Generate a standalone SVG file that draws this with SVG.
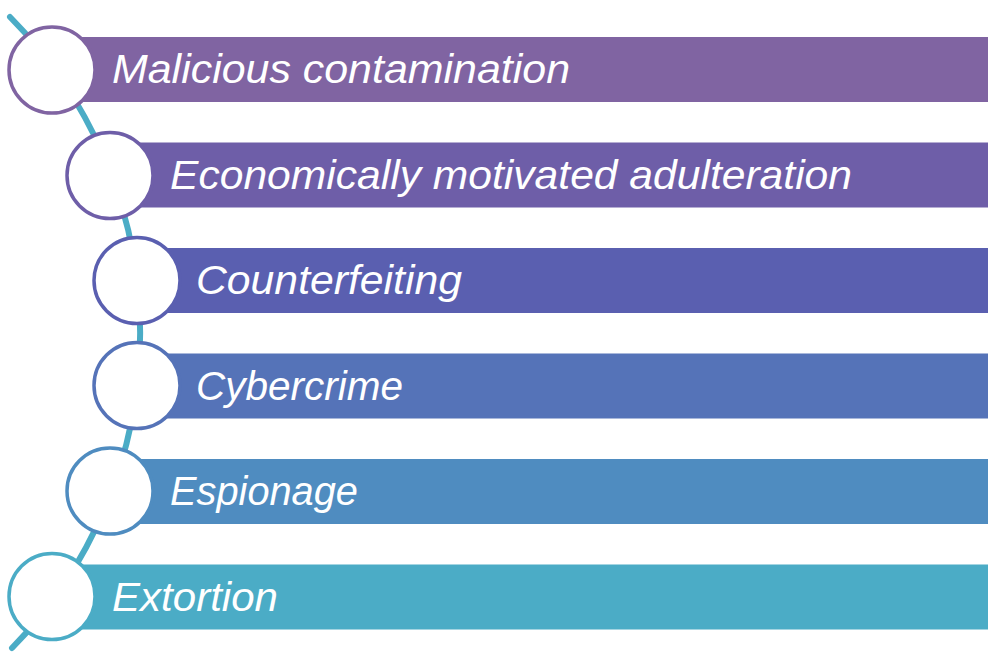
<svg xmlns="http://www.w3.org/2000/svg" width="1000" height="667" viewBox="0 0 1000 667">
<style>
.lbl{font-family:"Liberation Sans",Arial,sans-serif;font-style:italic;font-size:41px;fill:#ffffff}
.c{fill:#ffffff;stroke-width:3.5}
</style>
<rect width="1000" height="667" fill="#ffffff"/>
<g id="connectors">
<path d="M 10 17 A 450 450 0 0 1 12 648" fill="none" stroke="#4BACC6" stroke-width="6" stroke-linecap="round"/>
</g>
<g id="n1">
<rect x="52" y="37" width="936" height="65" fill="#8064A2"/>
<circle class="c" cx="52" cy="70" r="43" stroke="#8064A2"/>
<text class="lbl" x="112" y="83" textLength="458" lengthAdjust="spacingAndGlyphs">Malicious contamination</text>
</g>
<g id="n2">
<rect x="110" y="142.5" width="878" height="65" fill="#6E5EA8"/>
<circle class="c" cx="110" cy="175.5" r="43" stroke="#6E5EA8"/>
<text class="lbl" x="170" y="188.5" textLength="682" lengthAdjust="spacingAndGlyphs">Economically motivated adulteration</text>
</g>
<g id="n3">
<rect x="137" y="248" width="851" height="65" fill="#5A5FB0"/>
<circle class="c" cx="137" cy="280.5" r="43" stroke="#5A5FB0"/>
<text class="lbl" x="196" y="294" textLength="266" lengthAdjust="spacingAndGlyphs">Counterfeiting</text>
</g>
<g id="n4">
<rect x="137" y="353.5" width="851" height="65" fill="#5573B8"/>
<circle class="c" cx="137" cy="385.5" r="43" stroke="#5573B8"/>
<text class="lbl" x="196" y="399.5" textLength="207" lengthAdjust="spacingAndGlyphs">Cybercrime</text>
</g>
<g id="n5">
<rect x="110" y="459" width="878" height="65" fill="#4F8CC0"/>
<circle class="c" cx="110" cy="491" r="43" stroke="#4F8CC0"/>
<text class="lbl" x="170" y="505" textLength="188" lengthAdjust="spacingAndGlyphs">Espionage</text>
</g>
<g id="n6">
<rect x="52" y="564.5" width="936" height="65" fill="#4BACC6"/>
<circle class="c" cx="52" cy="596.5" r="43" stroke="#4BACC6"/>
<text class="lbl" x="112" y="610.5" textLength="166" lengthAdjust="spacingAndGlyphs">Extortion</text>
</g>
</svg>
